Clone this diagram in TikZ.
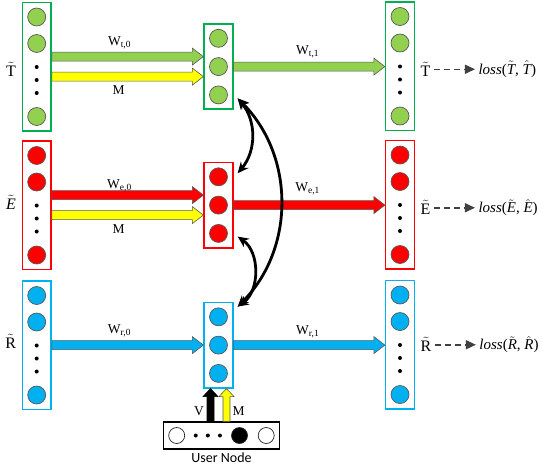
\documentclass[tikz,border=0pt]{standalone}
\usepackage{fontspec}
\setmainfont{Liberation Serif}
\newfontfamily\usrfont{Carlito}
\usepackage{tikz}
\usetikzlibrary{arrows.meta,positioning,calc,fit}
\definecolor{tfill}{RGB}{146,208,80}
\definecolor{tframe}{RGB}{0,176,80}
\definecolor{efill}{RGB}{255,0,0}
\definecolor{rfill}{RGB}{0,176,240}
\definecolor{mfill}{RGB}{255,255,0}
\definecolor{rim}{RGB}{89,89,89}
\tikzset{
  >={Stealth[length=11pt, width=10pt]},
  neuron/.style={circle, draw=rim, line width=0.7pt, minimum size=18pt, inner sep=0pt},
  tneuron/.style={neuron, fill=tfill},
  eneuron/.style={neuron, fill=efill},
  rneuron/.style={neuron, fill=rfill},
  uneuron/.style={neuron, draw=black!85, fill=white, minimum size=16pt},
  vdot/.style={circle, fill=black, minimum size=4pt, inner sep=0pt},
  layer/.style={draw, line width=1.6pt, inner sep=5pt},
  fat shaft/.initial=4.5, fat head/.initial=8.5, fat tip/.initial=11,
  fat/.style={draw=rim, line width=0.6pt, to path={
    let \p1=(\tikztostart), \p2=(\tikztotarget),
        \n1={atan2(\y2-\y1,\x2-\x1)}, \n2={veclen(\x2-\x1,\y2-\y1)},
        \n3={\pgfkeysvalueof{/tikz/fat shaft}}, \n4={\pgfkeysvalueof{/tikz/fat head}},
        \n5={\n2-\pgfkeysvalueof{/tikz/fat tip}} in
    {[shift={(\p1)}, rotate=\n1]
      (0,-\n3) -- (\n5,-\n3) -- (\n5,-\n4) -- (\n2,0) -- (\n5,\n4) -- (\n5,\n3) -- (0,\n3) -- cycle}}},
  link/.style={<->, line width=2.8pt},
  lossarrow/.style={draw=black!75, line width=1.5pt, dash pattern=on 6pt off 4pt, -{Triangle[length=10pt, width=9pt]}},
  lbl/.style={font=\fontsize{16}{18}\selectfont},
  wlbl/.style={font=\fontsize{13.5}{15}\selectfont},
  losslbl/.style={font=\fontsize{15}{17}\selectfont},
}
\begin{document}
\begin{tikzpicture}[x=1pt, y=1pt]
  \useasboundingbox (0,0) rectangle (545,-469);

  % T layers
  \node[tneuron] (lt1) at (36.7,-17) {};
  \node[tneuron, below=7.8pt of lt1] (lt2) {};
  \node[tneuron, below=54.3pt of lt2] (lt4) {};
  \node[vdot] (ltd2) at ($(lt2)!0.5!(lt4)$) {};
  \node[vdot, above=8.6pt of ltd2] (ltd1) {};
  \node[vdot, below=8.6pt of ltd2] (ltd3) {};
  \node[layer, draw=tframe, fit=(lt1)(lt4)] (lt) {};

  \node[tneuron] (mt1) at (218.5,-38.3) {};
  \node[tneuron, below=9.6pt of mt1] (mt2) {};
  \node[tneuron, below=9.6pt of mt2] (mt3) {};
  \node[layer, draw=tframe, fit=(mt1)(mt3)] (mt) {};

  \node[tneuron] (rt1) at (400,-16.5) {};
  \node[tneuron, below=7.8pt of rt1] (rt2) {};
  \node[tneuron, below=54.3pt of rt2] (rt4) {};
  \node[vdot] (rtd2) at ($(rt2)!0.5!(rt4)$) {};
  \node[vdot, above=8.6pt of rtd2] (rtd1) {};
  \node[vdot, below=8.6pt of rtd2] (rtd3) {};
  \node[layer, draw=tframe, fit=(rt1)(rt4)] (rt) {};

  % E layers
  \node[eneuron] (le1) at (36.7,-155.5) {};
  \node[eneuron, below=7.8pt of le1] (le2) {};
  \node[eneuron, below=54.3pt of le2] (le4) {};
  \node[vdot] (led2) at ($(le2)!0.5!(le4)$) {};
  \node[vdot, above=8.6pt of led2] (led1) {};
  \node[vdot, below=8.6pt of led2] (led3) {};
  \node[layer, draw=efill, fit=(le1)(le4)] (le) {};

  \node[eneuron] (me1) at (218.5,-176.8) {};
  \node[eneuron, below=9.6pt of me1] (me2) {};
  \node[eneuron, below=9.6pt of me2] (me3) {};
  \node[layer, draw=efill, fit=(me1)(me3)] (me) {};

  \node[eneuron] (re1) at (400,-155) {};
  \node[eneuron, below=7.8pt of re1] (re2) {};
  \node[eneuron, below=54.3pt of re2] (re4) {};
  \node[vdot] (red2) at ($(re2)!0.5!(re4)$) {};
  \node[vdot, above=8.6pt of red2] (red1) {};
  \node[vdot, below=8.6pt of red2] (red3) {};
  \node[layer, draw=efill, fit=(re1)(re4)] (re) {};

  % R layers
  \node[rneuron] (lr1) at (36.7,-295.5) {};
  \node[rneuron, below=7.8pt of lr1] (lr2) {};
  \node[rneuron, below=54.3pt of lr2] (lr4) {};
  \node[vdot] (lrd2) at ($(lr2)!0.5!(lr4)$) {};
  \node[vdot, above=8.6pt of lrd2] (lrd1) {};
  \node[vdot, below=8.6pt of lrd2] (lrd3) {};
  \node[layer, draw=rfill, fit=(lr1)(lr4)] (lr) {};

  \node[rneuron] (mr1) at (218.5,-316.8) {};
  \node[rneuron, below=9.6pt of mr1] (mr2) {};
  \node[rneuron, below=9.6pt of mr2] (mr3) {};
  \node[layer, draw=rfill, fit=(mr1)(mr3)] (mr) {};

  \node[rneuron] (rr1) at (400,-295) {};
  \node[rneuron, below=7.8pt of rr1] (rr2) {};
  \node[rneuron, below=54.3pt of rr2] (rr4) {};
  \node[vdot] (rrd2) at ($(rr2)!0.5!(rr4)$) {};
  \node[vdot, above=8.6pt of rrd2] (rrd1) {};
  \node[vdot, below=8.6pt of rrd2] (rrd3) {};
  \node[layer, draw=rfill, fit=(rr1)(rr4)] (rr) {};

  % user node
  \node[uneuron] (u1) at (176.7,-435.5) {};
  \node[vdot, right=8.5pt of u1] (ud1) {};
  \node[vdot, right=7.7pt of ud1] (ud2) {};
  \node[vdot, right=7.7pt of ud2] (ud3) {};
  \node[uneuron, fill=black, right=9pt of ud3] (u4) {};
  \node[uneuron, right=10pt of u4] (u5) {};
  \node[draw, line width=1.6pt, inner sep=5pt, fit=(u1)(u5)] (un) {};
  \node[font=\usrfont\fontsize{14}{16}\selectfont, below=0pt of un] (ulbl) {User Node};

  % wide arrows
  \draw[fat, fill=tfill] ($(lt.east |- mt2)+(0,10)$) to ($(mt.west |- mt2)+(0,10)$);
  \draw[fat, fill=mfill] ($(lt.east |- mt2)+(0,-10)$) to ($(mt.west |- mt2)+(0,-10)$);
  \draw[fat, fill=tfill] (mt.east |- mt2) to (rt.west |- mt2);
  \draw[fat, fill=efill] ($(le.east |- me2)+(0,10)$) to ($(me.west |- me2)+(0,10)$);
  \draw[fat, fill=mfill] ($(le.east |- me2)+(0,-10)$) to ($(me.west |- me2)+(0,-10)$);
  \draw[fat, fill=efill] (me.east |- me2) to (re.west |- me2);
  \draw[fat, fill=rfill] (lr.east |- mr2) to (mr.west |- mr2);
  \draw[fat, fill=rfill] (mr.east |- mr2) to (rr.west |- mr2);
  \draw[fat, fat shaft=3.5, fat head=7.5, fat tip=8, draw=black, fill=black]
    ($(un.north -| mr.south)+(-8,0)$) to ($(mr.south)+(-8,0)$);
  \draw[fat, fat shaft=3.5, fat head=7.5, fat tip=8, fill=mfill]
    ($(un.north -| mr.south)+(8,0)$) to ($(mr.south)+(8,0)$);

  \node[wlbl] (wt0) at (119.5,-43) {W\textsubscript{t,0}};
  \node[wlbl] (mlt) at (118.7,-90) {M};
  \node[wlbl] (wt1) at (307.7,-52) {W\textsubscript{t,1}};
  \node[wlbl] (we0) at (119.5,-186) {W\textsubscript{e,0}};
  \node[wlbl] (mle) at (118.7,-229) {M};
  \node[wlbl] (we1) at (307.7,-189) {W\textsubscript{e,1}};
  \node[wlbl] (wr0) at (119.5,-331) {W\textsubscript{r,0}};
  \node[wlbl] (wr1) at (307.7,-332) {W\textsubscript{r,1}};
  \node[wlbl] (vlu) at (199,-411) {V};
  \node[wlbl] (mlu) at (238.7,-411) {M};

  % shared links
  \draw[link] ([xshift=4pt, yshift=11.7pt]mt.south east) to[out=-50, in=50] ([xshift=4pt, yshift=-11.6pt]me.north east);
  \draw[link] ([xshift=4pt, yshift=11.7pt]mt.south east) to[out=-45, in=45] ([xshift=4pt, yshift=-5pt]mr.north east);
  \draw[link] ([xshift=4pt, yshift=12pt]me.south east) to[out=-35, in=35] ([xshift=4pt, yshift=-5pt]mr.north east);

  % inputs and outputs
  \node[lbl, left=2pt of lt, yshift=-3pt] (tin) {$\tilde{\textrm{T}}$};
  \node[lbl, left=2pt of le, yshift=3pt] (ein) {$\tilde{\textit{E}}$};
  \node[lbl, left=2pt of lr, yshift=4pt] (rin) {$\tilde{\textrm{R}}$};
  \node[lbl, right=2pt of rt, yshift=-3pt] (tout) {$\tilde{\textrm{T}}$};
  \node[lbl, right=2pt of re, yshift=-3pt] (eout) {$\tilde{\textrm{E}}$};
  \node[lbl, right=2pt of rr] (rout) {$\tilde{\textrm{R}}$};
  \node[losslbl, right=41pt of tout] (tloss) {\textit{loss}($\tilde{\textit{T}}$, $\hat{\textit{T}}$)};
  \node[losslbl, right=41pt of eout] (eloss) {\textit{loss}($\tilde{\textit{E}}$, $\hat{\textit{E}}$)};
  \node[losslbl, right=41pt of rout] (rloss) {\textit{loss}($\tilde{\textit{R}}$, $\hat{\textit{R}}$)};
  \draw[lossarrow] (tout) -- (tloss);
  \draw[lossarrow] (eout) -- (eloss);
  \draw[lossarrow] (rout) -- (rloss);
\end{tikzpicture}
\end{document}
